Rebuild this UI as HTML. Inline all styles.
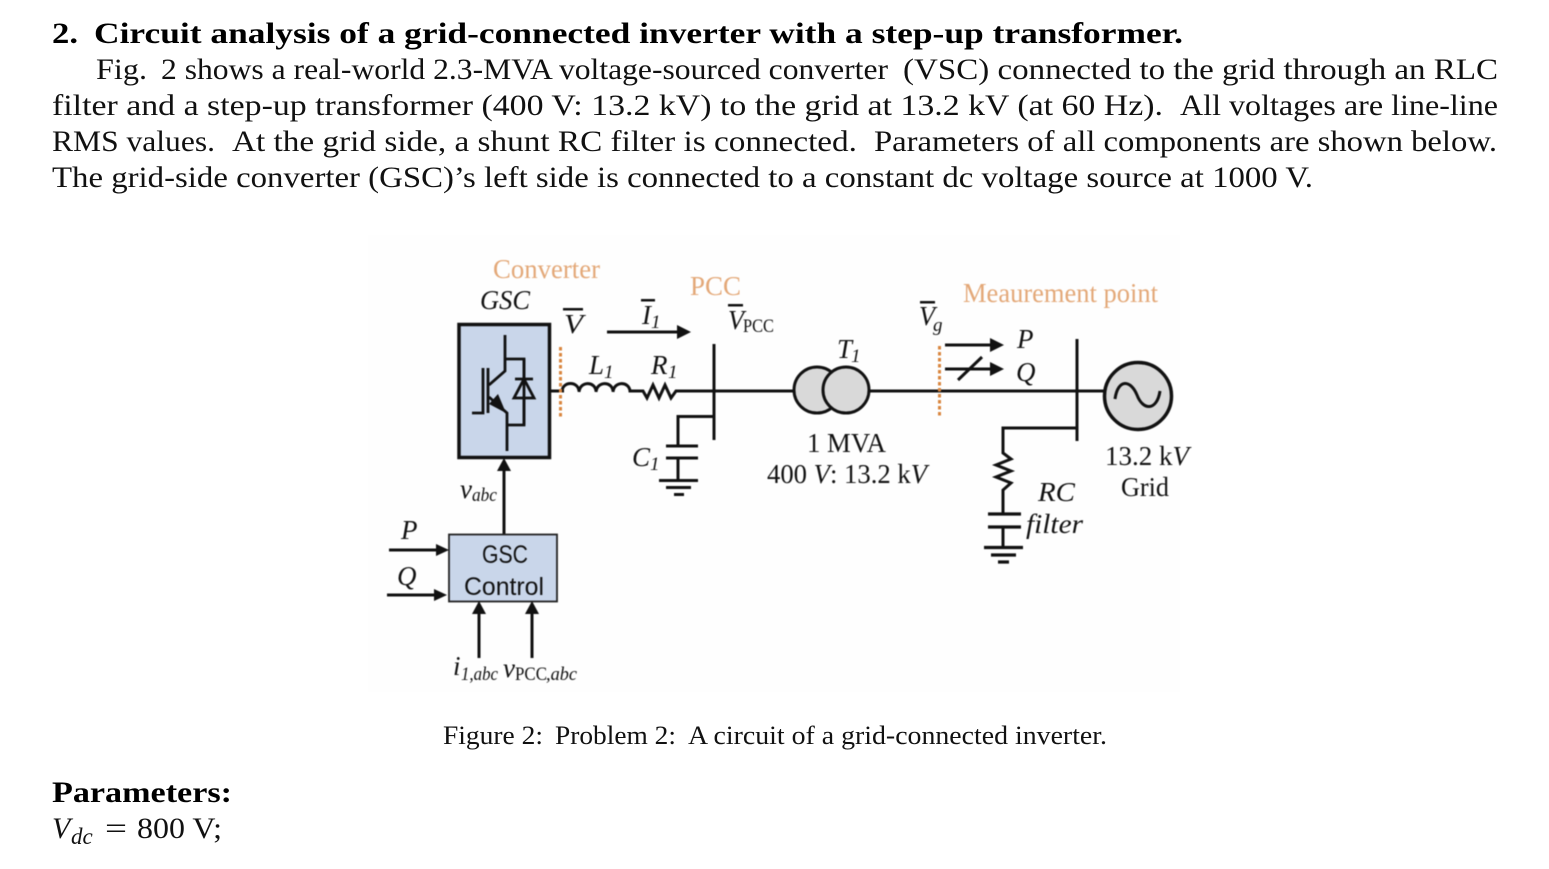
<!DOCTYPE html>
<html><head><meta charset="utf-8"><style>
html,body{margin:0;padding:0;background:#fff;width:1549px;height:869px;overflow:hidden}
svg{display:block}
.t{font-family:"Liberation Serif",serif;font-size:30px;fill:#111}
.b{font-family:"Liberation Serif",serif;font-size:30px;font-weight:bold;fill:#000}
.c{font-family:"Liberation Serif",serif;font-size:26px;fill:#111}
.l{font-family:"Liberation Serif",serif;font-size:27px;fill:#111}
.i{font-family:"Liberation Serif",serif;font-size:27px;font-style:italic;fill:#111}
.s{font-family:"Liberation Serif",serif;font-size:19px;fill:#111}
.si{font-family:"Liberation Serif",serif;font-size:19px;font-style:italic;fill:#111}
.o{font-family:"Liberation Serif",serif;font-size:27px;fill:#e3a878}
.g{font-family:"Liberation Sans",sans-serif;font-size:25px;fill:#111}
.w{fill:none;stroke:#111;stroke-width:3}
.n{fill:none;stroke:#111;stroke-width:2.8}
.a{fill:#111;stroke:none}
.d{fill:none;stroke:#d9863f;stroke-width:3;stroke-dasharray:3.500 2.500}
</style></head><body>
<svg width="1549" height="869" viewBox="0 0 1549 869" xmlns="http://www.w3.org/2000/svg">
<rect width="1549" height="869" fill="#fff"/>
<rect x="368" y="235" width="812" height="457" fill="#fefefe"/>

<text class="b" x="52" y="43" textLength="26" lengthAdjust="spacingAndGlyphs">2.</text>
<text class="b" x="94" y="43" textLength="1089" lengthAdjust="spacingAndGlyphs">Circuit analysis of a grid-connected inverter with a step-up transformer.</text>
<text class="t" x="96" y="79" textLength="51" lengthAdjust="spacingAndGlyphs">Fig.</text>
<text class="t" x="161" y="79" textLength="727" lengthAdjust="spacingAndGlyphs">2 shows a real-world 2.3-MVA voltage-sourced converter</text>
<text class="t" x="903" y="79" textLength="595" lengthAdjust="spacingAndGlyphs">(VSC) connected to the grid through an RLC</text>
<text class="t" x="52" y="115" textLength="1111" lengthAdjust="spacingAndGlyphs">filter and a step-up transformer (400 V: 13.2 kV) to the grid at 13.2 kV (at 60 Hz).</text>
<text class="t" x="1180" y="115" textLength="318" lengthAdjust="spacingAndGlyphs">All voltages are line-line</text>
<text class="t" x="52" y="151" textLength="163" lengthAdjust="spacingAndGlyphs">RMS values.</text>
<text class="t" x="232" y="151" textLength="625" lengthAdjust="spacingAndGlyphs">At the grid side, a shunt RC filter is connected.</text>
<text class="t" x="874" y="151" textLength="623" lengthAdjust="spacingAndGlyphs">Parameters of all components are shown below.</text>
<text class="t" x="52" y="187" textLength="1261" lengthAdjust="spacingAndGlyphs">The grid-side converter (GSC)’s left side is connected to a constant dc voltage source at 1000 V.</text>

<g style="filter:blur(0.4px)">
<!-- orange labels -->
<text class="o" x="493" y="278" textLength="107" lengthAdjust="spacingAndGlyphs">Converter</text>
<text class="o" x="690" y="295" textLength="51" lengthAdjust="spacingAndGlyphs">PCC</text>
<text class="o" x="963" y="302" textLength="195" lengthAdjust="spacingAndGlyphs">Meaurement point</text>

<!-- GSC box -->
<rect x="459" y="324.500" width="90.500" height="133" fill="#c9d6ea" stroke="#111" stroke-width="3.500"/>
<text class="i" x="480" y="309" textLength="50" lengthAdjust="spacingAndGlyphs">GSC</text>
<!-- IGBT -->
<path class="n" d="M505 335V371L489 385M489 397L507 413V451M505 359H524V425H507M488 368V413M483 368V413H472"/>
<path class="a" d="M506 413L489 404L498 394Z"/>
<path class="n" d="M515 379H533M524 379L514 398H534ZM524 359V379M524 398V425"/>

<!-- main line -->
<path class="w" d="M550 391H564"/>
<path class="w" d="M562 391C563 381 578 381 579 391M579 392C580 381 595 381 596 391M596 392C597 381 612 381 613 391M613 392C614 381 629 381 630 391H643L647 398L653 385L659 398L665 385L671 398L676 391H794"/>
<path class="d" d="M560.500 347V418"/>
<path class="w" d="M714 344V440M678 445V416.500H714M678 458V480"/>
<path class="w" d="M666 446H698M666 458H698M659 480.500H698"/>
<path class="w" d="M666 487.500H691M674 494.500H684"/>

<!-- current arrow -->
<path class="w" d="M607 332H680"/>
<path class="a" d="M677 325L691 332L677 339Z"/>

<!-- transformer -->
<circle cx="817" cy="390" r="23" fill="#d9d9d9" stroke="#111" stroke-width="3"/>
<circle cx="846" cy="390" r="23" fill="#d9d9d9" stroke="#111" stroke-width="3"/>
<path class="w" d="M869 391H1104M1077 339V441"/>
<path class="d" d="M939.500 346V418"/>
<path class="w" d="M945 345H992M945 369H992M958 380L982 357"/>
<path class="a" d="M990 338L1004 345L990 352ZM990 362L1004 369L990 376Z"/>

<!-- grid -->
<circle cx="1138" cy="396" r="33.500" fill="#d9d9d9" stroke="#111" stroke-width="3.500"/>
<path class="w" d="M1115 399C1118 378 1131 380 1137 395C1143 411 1157 411 1160 391"/>

<!-- RC -->
<path class="w" d="M1077 428H1003V453L1011 459L996 465L1011 471L996 477L1011 483L1003 490V514M1003 527V547"/>
<path class="w" d="M988 514H1021M988 527H1021M984 547.500H1023M991 555H1016M998 562H1009" style="stroke-width:3.200"/>

<!-- vabc arrow -->
<path class="w" d="M504 534V466"/>
<path class="a" d="M504 458L511 471H497Z"/>

<!-- control -->
<rect x="449" y="534.500" width="108" height="67" fill="#c9d6ea" stroke="#222" stroke-width="1.800"/>
<text class="g" x="482" y="563" textLength="46" lengthAdjust="spacingAndGlyphs">GSC</text>
<text class="g" x="464" y="595" textLength="80" lengthAdjust="spacingAndGlyphs">Control</text>
<path class="w" d="M389 550H438M387 595H436M479 658V612M532 658V612"/>
<path class="a" d="M436 544L449 550L436 556ZM434 589L447 595L434 601ZM479 601L486 614H472ZM532 601L539 614H525Z"/>

<!-- labels -->
<text class="i" x="564" y="333" textLength="19" lengthAdjust="spacingAndGlyphs">V</text>
<rect x="563" y="308" width="20" height="2.500" fill="#111"/>
<text class="i" x="642" y="324">I</text>
<text class="si" x="651" y="328">1</text>
<rect x="641" y="299" width="14" height="2.500" fill="#111"/>
<text class="i" x="728" y="329" textLength="16" lengthAdjust="spacingAndGlyphs">V</text>
<text class="s" x="743" y="332" textLength="31" lengthAdjust="spacingAndGlyphs">PCC</text>
<rect x="728" y="304" width="15" height="2.500" fill="#111"/>
<text class="i" x="589" y="374">L</text><text class="si" x="604" y="378">1</text>
<text class="i" x="651" y="374">R</text><text class="si" x="668" y="378">1</text>
<text class="i" x="632" y="466">C</text><text class="si" x="650" y="470">1</text>
<text class="i" x="460" y="498">v</text><text class="si" x="472" y="501" textLength="25" lengthAdjust="spacingAndGlyphs">abc</text>
<text class="i" x="919" y="325" textLength="16" lengthAdjust="spacingAndGlyphs">V</text>
<text class="si" x="933" y="331">g</text>
<rect x="920" y="301" width="15" height="2.500" fill="#111"/>
<text class="i" x="837" y="358" textLength="15" lengthAdjust="spacingAndGlyphs">T</text><text class="si" x="851" y="362">1</text>
<text class="i" x="1017" y="348">P</text>
<text class="i" x="1016" y="381">Q</text>
<text class="l" x="807" y="452" textLength="79" lengthAdjust="spacingAndGlyphs">1 MVA</text>
<text class="l" x="767" y="483" textLength="160" lengthAdjust="spacingAndGlyphs">400 <tspan font-style="italic">V</tspan>: 13.2 k<tspan font-style="italic">V</tspan></text>
<text class="l" x="1105" y="465" textLength="84" lengthAdjust="spacingAndGlyphs">13.2 k<tspan font-style="italic">V</tspan></text>
<text class="l" x="1121" y="496" textLength="48" lengthAdjust="spacingAndGlyphs">Grid</text>
<text class="i" x="1038" y="501" textLength="37" lengthAdjust="spacingAndGlyphs">RC</text>
<text class="i" x="1026" y="533" textLength="57" lengthAdjust="spacingAndGlyphs">filter</text>
<text class="i" x="401" y="539">P</text>
<text class="i" x="397" y="585">Q</text>
<text class="i" x="453" y="675">i</text><text class="si" x="461" y="680" textLength="37" lengthAdjust="spacingAndGlyphs">1,abc</text>
<text class="i" x="503" y="677">v</text><text class="s" x="515" y="680" textLength="32" lengthAdjust="spacingAndGlyphs">PCC</text><text class="si" x="546" y="680" textLength="31" lengthAdjust="spacingAndGlyphs">,abc</text>
</g>

<text class="c" x="443" y="744" textLength="100" lengthAdjust="spacingAndGlyphs">Figure 2:</text>
<text class="c" x="555" y="744" textLength="121" lengthAdjust="spacingAndGlyphs">Problem 2:</text>
<text class="c" x="688" y="744" textLength="419" lengthAdjust="spacingAndGlyphs">A circuit of a grid-connected inverter.</text>
<text class="b" x="52" y="802" textLength="180" lengthAdjust="spacingAndGlyphs">Parameters:</text>
<text class="t" x="52" y="838" font-style="italic">V</text>
<text class="si" x="71" y="844" style="font-size:23px">dc</text>
<text class="t" x="105" y="838" textLength="22" lengthAdjust="spacingAndGlyphs">=</text>
<text class="t" x="137" y="838" textLength="85" lengthAdjust="spacingAndGlyphs">800 V;</text>
</svg>
</body></html>
